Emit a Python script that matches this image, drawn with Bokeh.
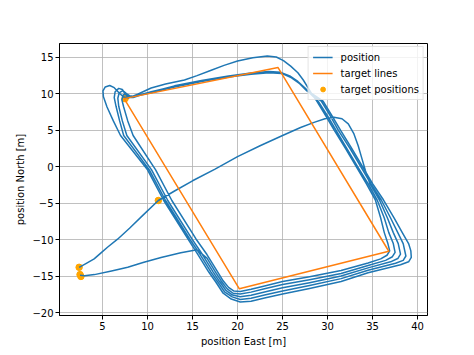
from bokeh.plotting import figure
from bokeh.models import Range1d, FixedTicker, Legend, LegendItem
from bokeh.embed import file_html
from bokeh.resources import INLINE

# ---- data ----
x_ticks = [5, 10, 15, 20, 25, 30, 35, 40]
y_ticks = [-20, -15, -10, -5, 0, 5, 10, 15]

target_line_x = [7.4, 24.5, 36.8, 20.2, 7.4]
target_line_y = [9.35, 13.6, -11.55, -16.7, 9.35]

target_pos_x = [2.4, 2.5, 2.6, 11.2, 7.5]
target_pos_y = [-13.75, -14.75, -15.0, -4.6, 9.35]

takeoff_x = [2.4, 3.2, 4.07, 4.8, 5.55, 6.67, 8.0, 9.5, 11.2, 13.0, 15.0, 17.5, 20.0, 22.5, 25.0, 27.0,
             28.5, 29.7, 30.7, 31.6, 32.3, 32.9, 33.4, 33.8, 34.2, 34.7]
takeoff_y = [-13.75, -13.2, -12.6, -11.8, -11.0, -9.9, -8.4, -6.6, -4.6, -3.3, -1.9, -0.3, 1.4, 2.9, 4.3, 5.4,
             6.1, 6.6, 6.8, 6.6, 5.9, 4.6, 2.9, 1.2, -0.5, -2.3]

lap1_x = [35.75, 36.65, 37.3, 37.85, 38.1, 37.8, 37.0, 34.5, 31.5, 28.0, 25.0, 23.0, 21.5, 20.3, 19.45, 18.7,
          18.0, 17.3, 16.1, 14.95, 12.25, 10.45, 7.7,
          7.2, 6.8, 6.7, 6.85, 7.25, 7.6, 7.9, 8.5, 9.4, 10.4,
          13.0, 16.0, 19.0, 21.5, 23.5, 24.8, 25.9, 26.8, 27.6,
          29.5, 30.5, 31.45, 32.7, 33.9, 35.0]
lap1_y = [-4.5, -7.0, -9.0, -10.5, -11.95, -12.55, -13.0, -13.83, -14.95, -15.85, -16.55, -17.13, -17.58, -17.78,
          -17.55, -16.9, -15.7, -14.4, -12.0, -9.9, -4.6, -0.4, 4.3,
          6.3, 8.3, 9.4, 10.15, 10.45, 10.1, 9.65, 9.6, 9.95, 10.3,
          11.05, 11.8, 12.4, 12.8, 13.0, 12.9, 12.35, 11.55, 10.6,
          9.0, 7.0, 5.0, 2.5, 0.0, -2.3]

lap2_x = [36.2, 37.4, 38.3, 39.0, 39.25, 39.3, 39.0, 38.1, 34.5, 31.5, 28.0, 25.0, 23.0, 21.5, 20.3, 19.3,
          18.4, 17.6, 16.8, 15.6, 14.5, 11.8, 10.0, 7.0,
          6.2, 5.5, 5.1, 5.05, 5.3, 5.8, 6.3, 6.8, 7.3, 7.9, 8.9, 10.4,
          12.0, 14.1, 15.5, 17.0, 18.5, 20.0, 21.7, 23.3, 24.3, 25.1, 25.9, 26.7, 27.3, 27.8, 28.3,
          28.8, 29.8, 30.75, 32.0, 33.2, 34.3]
lap2_y = [-4.5, -7.0, -9.0, -10.5, -11.5, -12.4, -13.0, -13.4, -14.5, -15.7, -16.65, -17.4, -17.95, -18.4, -18.5,
          -18.1, -17.3, -15.8, -14.4, -12.0, -9.9, -4.6, -0.4, 4.3,
          6.3, 8.2, 9.6, 10.4, 10.95, 11.15, 10.85, 10.2, 9.6, 9.45, 9.95, 10.8,
          11.35, 11.9, 12.5, 13.2, 13.9, 14.5, 14.95, 15.2, 15.05, 14.55, 13.8, 12.9, 11.9, 10.9, 9.9,
          9.0, 7.0, 5.0, 2.5, 0.0, -2.3]

lap3_x = [35.3, 35.9, 36.3, 36.7, 36.9, 36.6, 35.9, 34.5, 31.5, 28.0, 25.0, 23.0, 21.5, 20.3, 19.6, 19.0,
          18.4, 17.8, 16.6, 15.4, 12.7, 10.9, 8.4,
          7.8, 7.35, 7.15, 7.3, 7.65, 8.0, 8.6, 9.5, 10.4,
          13.0, 16.0, 19.0, 21.5, 23.5, 24.9, 26.0, 26.9, 27.7,
          29.3, 30.3, 31.2, 32.5, 33.7, 34.8]
lap3_y = [-4.5, -7.0, -9.0, -10.5, -11.5, -12.1, -12.6, -13.15, -14.2, -15.05, -15.7, -16.3, -16.75, -17.05,
          -17.0, -16.5, -15.6, -14.4, -12.0, -9.9, -4.6, -0.4, 4.3,
          6.3, 8.2, 9.2, 9.85, 10.05, 9.75, 9.65, 9.9, 10.15,
          10.95, 11.7, 12.3, 12.7, 12.9, 12.8, 12.2, 11.4, 10.4,
          9.0, 7.0, 5.0, 2.5, 0.0, -2.3]

lap4_x = [35.95, 37.0, 37.8, 38.4, 38.7, 38.4, 37.55, 34.5, 31.5, 28.0, 25.0, 23.0, 21.5, 20.3, 19.4, 18.55,
          17.8, 17.05, 15.85, 14.7, 12.0, 10.2, 7.35,
          6.9, 6.5, 6.3, 6.4, 6.8, 7.2, 7.5, 7.85, 8.4, 9.4, 10.4,
          13.0, 16.0, 19.0, 21.5, 23.5, 24.8, 25.8, 26.7, 27.5, 28.2,
          28.95, 30.0, 30.95, 32.15, 33.35, 34.5]
lap4_y = [-4.5, -7.0, -9.0, -10.5, -12.2, -12.8, -13.2, -14.15, -15.3, -16.25, -17.0, -17.55, -18.0, -18.15,
          -17.8, -17.1, -15.75, -14.4, -12.0, -9.9, -4.6, -0.4, 4.3,
          6.3, 8.3, 9.5, 10.3, 10.75, 10.6, 10.0, 9.5, 9.5, 9.9, 10.25,
          11.1, 11.85, 12.45, 12.85, 13.05, 12.95, 12.45, 11.7, 10.8, 9.9,
          9.0, 7.0, 5.0, 2.5, 0.0, -2.3]

lap5_x = [35.5, 36.3, 36.8, 37.3, 37.5, 37.2, 36.45, 34.5, 31.5, 28.0, 25.0, 23.0, 21.5, 20.3, 19.5, 18.85,
          18.2, 17.55, 16.6, 15.5,
          13.7, 11.5, 9.5, 7.8, 6.0, 4.1, 3.0, 2.5]
lap5_y = [-4.5, -7.0, -9.0, -10.5, -11.7, -12.3, -12.8, -13.5, -14.6, -15.45, -16.1, -16.7, -17.15, -17.4,
          -17.3, -16.7, -15.65, -14.4, -12.5, -11.35,
          -11.75, -12.4, -13.1, -13.75, -14.25, -14.75, -14.9, -14.85]

pos_x = takeoff_x + lap1_x + lap2_x + lap3_x + lap4_x + lap5_x
pos_y = takeoff_y + lap1_y + lap2_y + lap3_y + lap4_y + lap5_y

BLUE = "#1f77b4"
ORANGE_LINE = "#ff7f0e"
ORANGE_DOT = "#ffa500"
FONT = "DejaVu Sans"

p = figure(width=466, height=349, output_backend="svg", toolbar_location=None,
           x_range=Range1d(0.22, 41.1), y_range=Range1d(-20.35, 16.9),
           min_border_left=59, min_border_right=39, min_border_top=43, min_border_bottom=31,
           background_fill_color="white", border_fill_color="white")

p.outline_line_color = "black"
p.outline_line_width = 1
p.outline_line_alpha = 1

dots = p.scatter(target_pos_x, target_pos_y, size=6.5, color=ORANGE_DOT, line_color=ORANGE_DOT)
blue = p.line(pos_x, pos_y, line_color=BLUE, line_width=1.5, line_join="round")
orange = p.line(target_line_x, target_line_y, line_color=ORANGE_LINE, line_width=1.5, line_join="round")

for ax, ticks, label in ((p.xaxis[0], x_ticks, "position East [m]"),
                         (p.yaxis[0], y_ticks, "position North [m]")):
    ax.ticker = FixedTicker(ticks=ticks)
    ax.major_label_overrides = {t: str(t).replace("-", "\u2212") for t in ticks}
    ax.axis_label = label
    ax.axis_label_text_font = FONT
    ax.axis_label_text_font_size = "10px"
    ax.axis_label_text_font_style = "normal"
    ax.axis_label_text_color = "black"
    ax.major_label_text_font = FONT
    ax.major_label_text_font_size = "10px"
    ax.major_label_text_color = "black"
    ax.major_tick_out = 4
    ax.major_tick_in = 0
    ax.minor_tick_out = 0
    ax.minor_tick_in = 0
    ax.major_tick_line_color = "black"
    ax.axis_line_color = "black"
    ax.major_label_standoff = 2
    ax.axis_label_standoff = 3

p.xaxis.major_label_orientation = "horizontal"

for g in (p.xgrid[0], p.ygrid[0]):
    g.grid_line_color = "#b0b0b0"
    g.grid_line_width = 0.8
    g.grid_line_alpha = 1.0

legend = Legend(items=[LegendItem(label="position", renderers=[blue]),
                       LegendItem(label="target lines", renderers=[orange]),
                       LegendItem(label="target positions", renderers=[dots])],
                location="top_right")
legend.label_text_font = FONT
legend.label_text_font_size = "10px"
legend.label_text_color = "black"
legend.glyph_width = 20
legend.glyph_height = 12
legend.label_height = 12
legend.label_standoff = 8
legend.spacing = 4
legend.padding = 4
legend.margin = 3
legend.border_line_color = "#cccccc"
legend.border_line_width = 1
legend.background_fill_color = "white"
legend.background_fill_alpha = 0.8
p.add_layout(legend)

open("out.html", "w").write(file_html(p, INLINE))
